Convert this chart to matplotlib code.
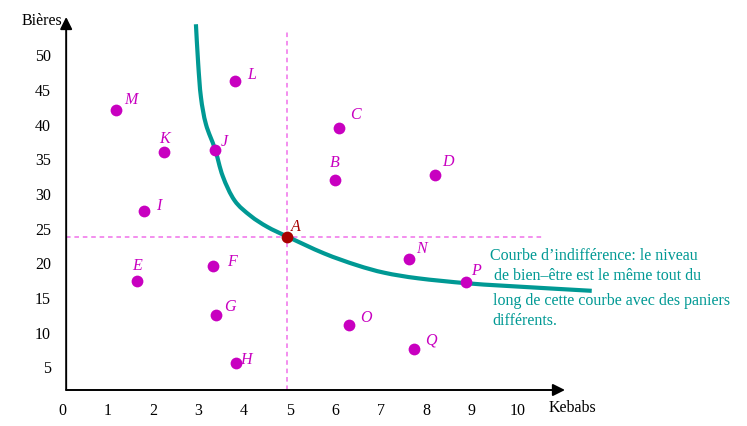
import matplotlib
matplotlib.use("Agg")
import matplotlib.pyplot as plt
from matplotlib.path import Path
from matplotlib.patches import PathPatch

# ---- data ----
point_names = ["M", "K", "J", "L", "C", "B", "D", "I", "E", "F", "G", "H", "N", "P", "O", "Q"]
point_x = [1.18, 2.25, 3.36, 3.79, 6.08, 5.99, 8.19, 1.81, 1.64, 3.31, 3.38, 3.81, 7.62, 8.87, 6.30, 7.73]
point_y = [41.9, 35.9, 36.2, 46.1, 39.4, 31.9, 32.6, 27.4, 17.3, 19.5, 12.4, 5.5, 20.5, 17.1, 11.0, 7.5]

a_name = "A"
a_x = 4.95
a_y = 23.7

curve_x = [2.94, 2.99, 3.05, 3.16, 3.36, 3.53, 3.79, 4.14, 4.51, 4.95, 5.75, 6.47, 7.08, 7.82, 8.87, 9.78, 11.63]
curve_y = [54.3, 48.6, 43.8, 39.9, 36.3, 32.4, 28.9, 26.7, 25.1, 23.7, 21.3, 19.6, 18.5, 17.7, 17.0, 16.6, 15.9]

x_ticks = [0, 1, 2, 3, 4, 5, 6, 7, 8, 9, 10]
y_ticks = [5, 10, 15, 20, 25, 30, 35, 40, 45, 50]
x_label = "Kebabs"
y_label = "Bières"
note_lines = ["Courbe d’indifférence: le niveau",
              " de bien–être est le même tout du",
              "long de cette courbe avec des paniers",
              "différents."]

# ---- styling / layout ----
W, H = 747, 427
FS = 11.5
fig = plt.figure(figsize=(W / 100, H / 100), dpi=100)
plt.rcParams['font.family'] = ['Liberation Serif', 'DejaVu Serif']

def px2x(p):
    return (p - 57.8) / 45.93

def py2y(p):
    return (402.2 - p) / 6.942

left_px, right_px, top_px, bottom_px = 62, 565, 18, 391
ax = fig.add_axes([left_px / W, (H - bottom_px) / H,
                   (right_px - left_px) / W, (bottom_px - top_px) / H])
x0, x1 = px2x(left_px), px2x(right_px)
y0, y1 = py2y(bottom_px), py2y(top_px)
ax.set_xlim(x0, x1)
ax.set_ylim(y0, y1)
for s in ax.spines.values():
    s.set_visible(False)

ax.set_xticks(x_ticks)
ax.set_xticklabels([str(t) for t in x_ticks])
ax.set_yticks(y_ticks)
ax.set_yticklabels([str(t) for t in y_ticks])
ax.tick_params(axis='both', length=0, labelsize=FS)
ax.tick_params(axis='x', pad=9)
ax.tick_params(axis='y', pad=8)

# axes with arrows
arrow_kw = dict(arrowstyle='-|>', lw=1.4, color='black', mutation_scale=18, shrinkA=0, shrinkB=0)
ax.annotate('', xy=(x1, y0), xytext=(x0, y0), arrowprops=arrow_kw, annotation_clip=False)
ax.annotate('', xy=(x0, y1), xytext=(x0, y0), arrowprops=arrow_kw, annotation_clip=False)

ax.text(px2x(58), py2y(21), y_label, ha='right', va='center', fontsize=FS)
ax.text(px2x(548), py2y(408), x_label, ha='left', va='center', fontsize=FS)

# dashed guide lines
pink = '#F070EA'
ax.plot([x0, px2x(543)], [a_y, a_y], ls=(0, (3, 2.5)), lw=1.1, color=pink, clip_on=False)
ax.plot([a_x, a_x], [y0, py2y(32)], ls=(0, (3, 2.5)), lw=1.1, color=pink, clip_on=False)

# indifference curve: smooth (Catmull-Rom -> cubic Bezier) through the read points
pts = list(zip(curve_x, curve_y))
verts = [pts[0]]
codes = [Path.MOVETO]
for i in range(len(pts) - 1):
    p0 = pts[i - 1] if i > 0 else pts[i]
    p1 = pts[i]
    p2 = pts[i + 1]
    p3 = pts[i + 2] if i + 2 < len(pts) else pts[i + 1]
    c1 = (p1[0] + (p2[0] - p0[0]) / 6, p1[1] + (p2[1] - p0[1]) / 6)
    c2 = (p2[0] - (p3[0] - p1[0]) / 6, p2[1] - (p3[1] - p1[1]) / 6)
    verts += [c1, c2, p2]
    codes += [Path.CURVE4] * 3
teal = '#009994'
ax.add_patch(PathPatch(Path(verts, codes), fill=False, edgecolor=teal, lw=3.0,
                       capstyle='butt', clip_on=False, zorder=3))

# points
magenta = '#C800C0'
ax.scatter(point_x, point_y, s=72, color=magenta, zorder=4, clip_on=False, linewidths=0)
ax.scatter([a_x], [a_y], s=72, color='#A80000', zorder=5, clip_on=False, linewidths=0)

label_offsets = {"M": (15, 11), "K": (0, 14), "J": (9, 9), "L": (17, 7), "C": (16, 14),
                 "B": (0, 18), "D": (13, 14), "I": (14, 6), "E": (0, 16), "F": (19, 5),
                 "G": (14, 9), "H": (10, 4), "N": (12, 11), "P": (10, 12), "O": (17, 8),
                 "Q": (17, 10)}
for n, x, y in zip(point_names, point_x, point_y):
    dx, dy = label_offsets[n]
    ax.annotate(n, (x, y), xytext=(dx, dy), textcoords='offset pixels',
                ha='center', va='center', fontsize=FS, style='italic', color=magenta)
ax.annotate(a_name, (a_x, a_y), xytext=(8, 11), textcoords='offset pixels',
            ha='center', va='center', fontsize=FS, style='italic', color='#A80000')

# note text
note_pos = [(489, 256), (489, 276), (492, 301), (492, 321)]
for line, (px, py) in zip(note_lines, note_pos):
    ax.text(px2x(px), py2y(py), line, ha='left', va='center', fontsize=FS, color=teal)

fig.savefig("out.png", dpi=100)
